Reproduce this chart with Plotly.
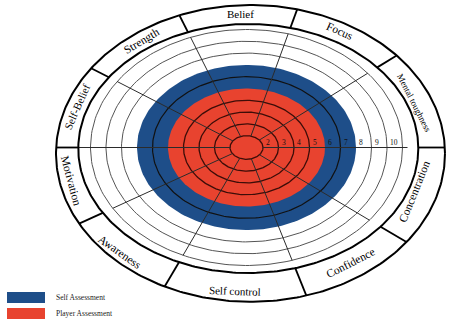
import numpy as np
import plotly.graph_objects as go

# ---------------- data ----------------
categories = ["Belief", "Focus", "Mental toughness", "Concentration", "Confidence",
              "Self control", "Awareness", "Motivation", "Self-Belief", "Strength"]
levels = list(range(1, 11))
tick_labels = ["2", "3", "4", "5", "6", "7", "8", "9", "10"]
series_names = ["Self Assessment", "Player Assessment"]
series_values = [7, 5]

# ---------------- styling / layout constants ----------------
series_colors = ["#1e4e89", "#e8432f"]
CX, CY = 246.5, 147.5          # centre of the rating rings (canvas units)
RX0, RX1 = 1.0, 15.5           # horizontal radius = RX0 + RX1*level
RY1 = 11.8                     # vertical radius = RY1*level
INNER_BAND = (248.3, 148.5, 170.0, 124.5)
OUTER_BAND = (250.5, 153.4, 194.5, 148.4)
divider_deg = [74.5, 39, 0, -38, -73, -114, -149, 180, 146, 111]  # after each category
label_pos = [(240, 14, 0, 11), (340, 31, 24, 11.5), (414, 103, 63, 9), (414, 192, -68, 11.5),
             (350, 263, -27, 11.5), (235, 291, 2, 11), (120, 252, 35, 11.5),
             (71, 180, 75, 11.5), (77, 107, -66, 11), (141, 41, -31, 11.5)]
FONT = "Liberation Serif"


def rx(level):
    return RX0 + RX1 * level


def ry(level):
    return RY1 * level


def ellipse(cx, cy, a, b, n=240):
    t = np.linspace(0, 2 * np.pi, n)
    return list(cx + a * np.cos(t)), list(cy - b * np.sin(t))


def ring(level):
    return ellipse(CX, CY, rx(level), ry(level))


def ray_hit(deg, band):
    ex, ey, erx, ery = band
    a = np.radians(deg)
    dx, dy = np.cos(a) * rx(10), -np.sin(a) * ry(10)
    ox, oy = CX - ex, CY - ey
    A = (dx / erx) ** 2 + (dy / ery) ** 2
    B = 2 * (ox * dx / erx ** 2 + oy * dy / ery ** 2)
    C = (ox / erx) ** 2 + (oy / ery) ** 2 - 1
    s = (-B + np.sqrt(B * B - 4 * A * C)) / (2 * A)
    return CX + s * dx, CY + s * dy


fig = go.Figure()

# filled assessment areas (largest first)
for name, val, col in sorted(zip(series_names, series_values, series_colors), key=lambda r: -r[1]):
    x, y = ring(val)
    fig.add_trace(go.Scatter(x=x, y=y, mode="lines", fill="toself", fillcolor=col,
                             line=dict(width=0, color=col), hoverinfo="skip", name=name))

# ring lines
player = min(series_values)
selfv = max(series_values)
groups = {"in": ([], []), "mid": ([], []), "out": ([], [])}
for L in levels:
    if L == player or L == selfv:
        continue
    key = "in" if L < player else ("mid" if L < selfv else "out")
    x, y = ring(L)
    groups[key][0].extend(x + [None])
    groups[key][1].extend(y + [None])
styles = {"in": ("#3d0d08", 1.3), "mid": ("#111111", 1.2), "out": ("#555555", 1.0)}
for k, (gx, gy) in groups.items():
    c, w = styles[k]
    fig.add_trace(go.Scatter(x=gx, y=gy, mode="lines", line=dict(color=c, width=w),
                             hoverinfo="skip"))

# spokes
sx, sy = [], []
for d in divider_deg:
    a = np.radians(d)
    if d in (0, 180):
        continue
    sx += [CX + rx(1) * np.cos(a), CX + rx(10) * np.cos(a), None]
    sy += [CY - ry(1) * np.sin(a), CY - ry(10) * np.sin(a), None]
# horizontal scale axis
lx, _ = ray_hit(180, INNER_BAND)
sx += [lx, CX - rx(1), None, CX + rx(1), CX + rx(10) + 5, None]
sy += [CY, CY, None, CY, CY, None]
fig.add_trace(go.Scatter(x=sx, y=sy, mode="lines", line=dict(color="#2b2b2b", width=1),
                         hoverinfo="skip"))

# category band
for band in (INNER_BAND, OUTER_BAND):
    x, y = ellipse(*band, n=360)
    fig.add_trace(go.Scatter(x=x, y=y, mode="lines", line=dict(color="black", width=2),
                             hoverinfo="skip"))
bx, by = [], []
for d in divider_deg:
    x0, y0 = ray_hit(d, INNER_BAND)
    x1, y1 = ray_hit(d, OUTER_BAND)
    bx += [x0, x1, None]
    by += [y0, y1, None]
fig.add_trace(go.Scatter(x=bx, y=by, mode="lines", line=dict(color="black", width=1.8),
                         hoverinfo="skip"))

# category labels
for cat, (x, y, ang, sz) in zip(categories, label_pos):
    fig.add_annotation(x=x, y=y, text=cat, showarrow=False, textangle=ang,
                       font=dict(family=FONT, size=sz, color="black"),
                       xanchor="center", yanchor="middle")

# scale tick labels
for L, lab in zip(levels[1:], tick_labels):
    fig.add_annotation(x=CX + rx(L - 1) + 1, y=CY + 1, text=lab, showarrow=False,
                       font=dict(family=FONT, size=7.5, color="#111"),
                       xanchor="left", yanchor="bottom", xshift=0)

# legend (manual swatches)
for i, (name, col) in enumerate(zip(series_names, series_colors)):
    y0 = 292 + i * 16
    fig.add_shape(type="rect", x0=7, x1=45, y0=y0, y1=y0 + 11, fillcolor=col,
                  line=dict(width=0), layer="above")
    fig.add_annotation(x=54, y=y0 + 5.5, text=name, showarrow=False, xanchor="left",
                       yanchor="middle", font=dict(family=FONT, size=7.5, color="#222"))

fig.update_layout(
    width=474, height=325, margin=dict(l=0, r=0, t=0, b=0),
    paper_bgcolor="white", plot_bgcolor="white", showlegend=False,
    xaxis=dict(range=[0, 474], visible=False, fixedrange=True),
    yaxis=dict(range=[325, 0], visible=False, fixedrange=True),
)
fig.write_html("out.html")
